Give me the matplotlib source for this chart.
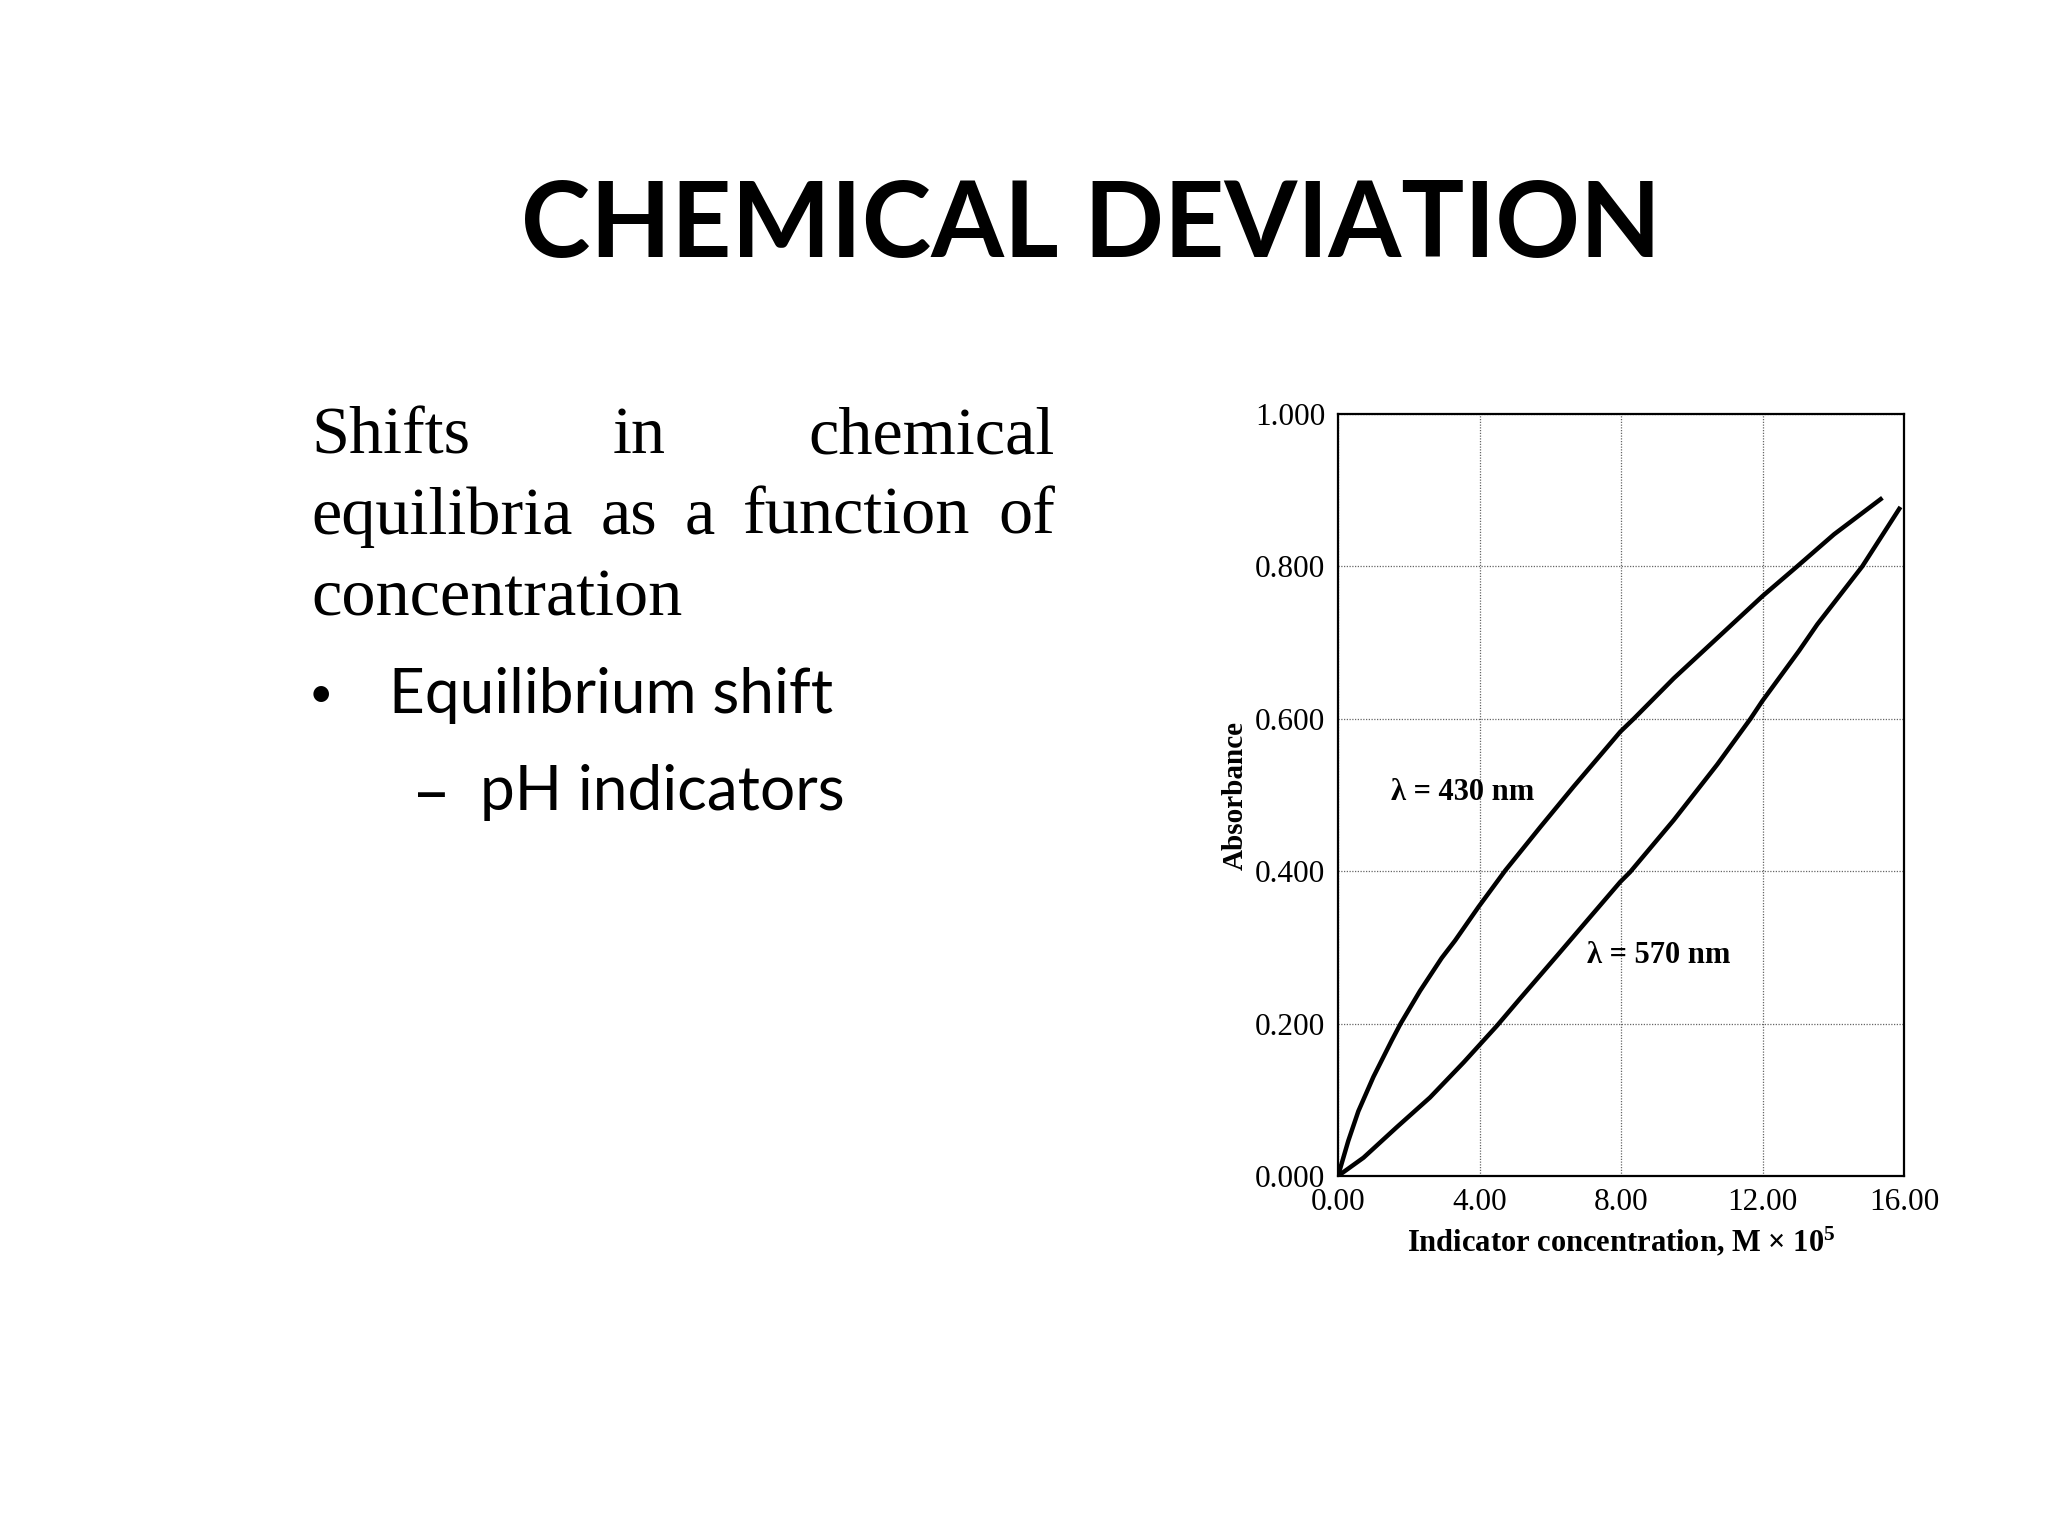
import matplotlib
matplotlib.use('Agg')
import matplotlib.pyplot as plt

# --- data ---
conc_430 = [0.0, 0.29, 0.575, 1.0, 1.52, 1.77, 2.32, 2.93, 3.31, 3.97, 4.73, 5.72, 6.66,
            7.98, 8.36, 9.49, 12.0, 12.98, 14.02, 15.39]
abs_430 = [0.0, 0.046, 0.085, 0.130, 0.178, 0.200, 0.243, 0.286, 0.309, 0.353, 0.401, 0.458, 0.511,
           0.583, 0.600, 0.653, 0.761, 0.800, 0.842, 0.890]

conc_570 = [0.0, 0.72, 1.66, 2.6, 3.55, 4.02, 4.49, 5.15, 6.19, 7.13, 7.98, 8.26, 9.49,
            10.72, 11.66, 11.99, 13.03, 13.55, 14.82, 15.9]
abs_570 = [0.0, 0.024, 0.064, 0.103, 0.149, 0.173, 0.197, 0.233, 0.289, 0.340, 0.386, 0.399, 0.467,
           0.540, 0.600, 0.623, 0.689, 0.724, 0.800, 0.878]

x_ticks = [0, 4, 8, 12, 16]
x_tick_labels = ['0.00', '4.00', '8.00', '12.00', '16.00']
y_ticks = [0.0, 0.2, 0.4, 0.6, 0.8, 1.0]
y_tick_labels = ['0.000', '0.200', '0.400', '0.600', '0.800', '1.000']

title = 'CHEMICAL DEVIATION'
para_lines = [['Shifts', 'in', 'chemical'],
              ['equilibria', 'as', 'a', 'function', 'of'],
              ['concentration']]
bullet_1 = 'Equilibrium shift'
bullet_2 = 'pH indicators'

W, H = 2048, 1536
plt.rcParams['mathtext.fontset'] = 'custom'
plt.rcParams['mathtext.rm'] = 'Liberation Serif:bold'
plt.rcParams['mathtext.default'] = 'rm'

fig = plt.figure(figsize=(20.48, 15.36), dpi=100)
fig.patch.set_facecolor('white')
renderer = fig.canvas.get_renderer()

SERIF = 'Liberation Serif'
SANS = 'Lato'


def fx(x):
    return x / W


def fy(y):
    return 1 - y / H


def text_width(s, size, family, weight='normal'):
    t = fig.text(0, 0, s, fontsize=size, family=family, weight=weight)
    w = t.get_window_extent(renderer).width
    t.remove()
    return w


def fit_size(s, target, family, weight='normal'):
    return 40 * target / text_width(s, 40, family, weight)


# title
tsize = fit_size(title, 1139, SANS, 'bold')
fig.text(fx(1091), fy(257), title, ha='center', va='baseline',
         fontsize=tsize, family=SANS, weight='bold')

# justified paragraph
psize = fit_size('concentration', 371, SERIF)
left, right = 311, 1055
baselines = [453, 534, 615]
for words, base in zip(para_lines, baselines):
    if len(words) == 1:
        fig.text(fx(left), fy(base), words[0], va='baseline', fontsize=psize, family=SERIF)
        continue
    widths = [text_width(w, psize, SERIF) for w in words]
    gap = (right - left - sum(widths)) / (len(words) - 1)
    x = left
    for w, wd in zip(words, widths):
        fig.text(fx(x), fy(base), w, va='baseline', fontsize=psize, family=SERIF)
        x += wd + gap

# bullets
bsize = (fit_size(bullet_1, 450, SANS) + fit_size(bullet_2, 360, SANS)) / 2
fig.text(fx(321), fy(707), '\u2022', ha='center', va='baseline', fontsize=bsize * 0.68, family=SANS)
fig.text(fx(389), fy(713), bullet_1, va='baseline', fontsize=bsize, family=SANS)
dsize = fit_size('\u2013', 39, SANS)
fig.text(fx(412), fy(815), '\u2013', va='baseline', fontsize=dsize, family=SANS)
fig.text(fx(480), fy(810), bullet_2, va='baseline', fontsize=bsize, family=SANS)

# chart
ax = fig.add_axes([fx(1338), fy(1176), 566 / W, 762 / H])
ax.plot(conc_430, abs_430, color='black', lw=3.2, solid_capstyle='butt', solid_joinstyle='round')
ax.plot(conc_570, abs_570, color='black', lw=3.2, solid_capstyle='butt', solid_joinstyle='round')
ax.set_xlim(0, 16)
ax.set_ylim(0, 1)
ax.set_xticks(x_ticks)
ax.set_xticklabels(x_tick_labels)
ax.set_yticks(y_ticks)
ax.set_yticklabels(y_tick_labels)
ax.tick_params(length=0, labelsize=22.5, pad=9)
for lbl in ax.get_xticklabels() + ax.get_yticklabels():
    lbl.set_family(SERIF)
ax.grid(True, color='#666666', linestyle=(0, (1, 1.2)), linewidth=0.9)
for sp in ax.spines.values():
    sp.set_linewidth(1.6)
    sp.set_color('black')

ax.set_xlabel('Indicator concentration, M \u00d7 $10^{5}$', fontsize=22,
              fontweight='bold', family=SERIF, va='top')
ax.xaxis.set_label_coords(0.5, -0.064)
ax.set_ylabel('Absorbance', fontsize=21, fontweight='bold', family=SERIF, va='center')
ax.yaxis.set_label_coords(-0.182, 0.5)

ax.text(1.5, 0.493, '\u03bb = 430 nm', fontsize=22, fontweight='bold', family=SERIF, va='baseline')
ax.text(7.05, 0.279, '\u03bb = 570 nm', fontsize=22, fontweight='bold', family=SERIF, va='baseline')

fig.savefig('out.png', dpi=100, facecolor='white')
